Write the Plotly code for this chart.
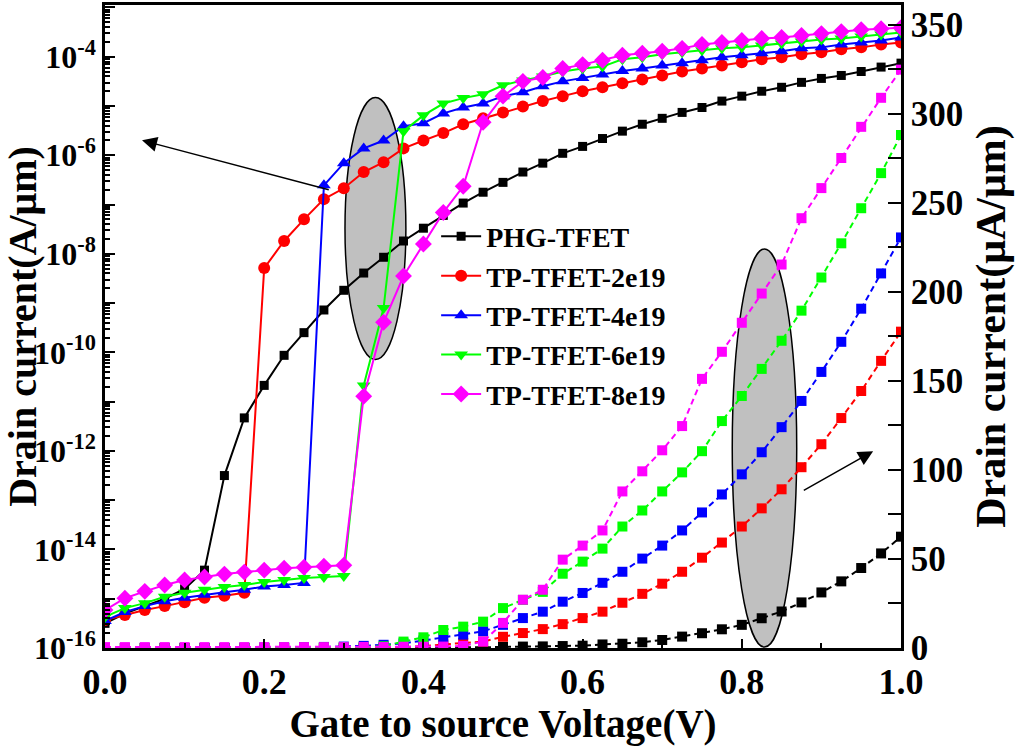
import plotly.graph_objects as go

# ---------------- data ----------------
vgs = [0.0, 0.025, 0.05, 0.075, 0.1, 0.125, 0.15, 0.175, 0.2, 0.225,
       0.25, 0.275, 0.3, 0.325, 0.35, 0.375, 0.4, 0.425, 0.45, 0.475,
       0.5, 0.525, 0.55, 0.575, 0.6, 0.625, 0.65, 0.675, 0.7, 0.725,
       0.75, 0.775, 0.8, 0.825, 0.85, 0.875, 0.9, 0.925, 0.95, 0.975, 1.0]

series_names = ["PHG-TFET", "TP-TFET-2e19", "TP-TFET-4e19", "TP-TFET-6e19", "TP-TFET-8e19"]

# log10 of drain current (A/um), left axis
phg_log10 = [-15.50, -15.30, -15.15, -15.00, -14.80, -14.42, -12.50, -11.33, -10.67, -10.06,
             -9.60, -9.14, -8.74, -8.39, -8.07, -7.74, -7.48, -7.22, -6.97, -6.75,
             -6.55, -6.34, -6.16, -5.96, -5.82, -5.66, -5.51, -5.37, -5.25, -5.13,
             -5.03, -4.90, -4.80, -4.70, -4.62, -4.52, -4.44, -4.38, -4.30, -4.21, -4.13]
tp2_log10 = [-15.43, -15.33, -15.23, -15.15, -15.07, -14.98, -14.94, -14.88, -8.29, -7.74,
             -7.30, -6.89, -6.67, -6.34, -6.14, -5.86, -5.70, -5.55, -5.37, -5.25,
             -5.13, -5.01, -4.90, -4.80, -4.70, -4.62, -4.54, -4.46, -4.38, -4.30,
             -4.24, -4.18, -4.11, -4.05, -4.01, -3.95, -3.91, -3.85, -3.81, -3.75, -3.71]
tp4_log10 = [-15.45, -15.27, -15.15, -15.05, -14.98, -14.92, -14.87, -14.82, -14.75, -14.72,
             -14.68, -6.61, -6.16, -5.86, -5.70, -5.41, -5.35, -5.15, -5.03, -4.95,
             -4.80, -4.72, -4.60, -4.50, -4.43, -4.36, -4.29, -4.24, -4.18, -4.13,
             -4.07, -4.01, -3.97, -3.93, -3.89, -3.83, -3.81, -3.75, -3.71, -3.67, -3.61]
tp6_log10 = [-15.37, -15.19, -15.09, -14.96, -14.88, -14.82, -14.76, -14.72, -14.66, -14.62,
             -14.58, -14.56, -14.54, -10.67, -9.10, -5.51, -5.19, -4.95, -4.84, -4.76,
             -4.58, -4.48, -4.40, -4.30, -4.24, -4.20, -4.05, -4.01, -3.95, -3.91,
             -3.87, -3.83, -3.81, -3.77, -3.73, -3.69, -3.65, -3.63, -3.59, -3.55, -3.51]
tp8_log10 = [-15.23, -14.99, -14.85, -14.72, -14.62, -14.56, -14.50, -14.46, -14.42, -14.38,
             -14.36, -14.34, -14.32, -10.89, -9.39, -8.45, -7.80, -7.16, -6.63, -5.33,
             -4.80, -4.50, -4.42, -4.24, -4.16, -4.07, -3.97, -3.93, -3.89, -3.83,
             -3.75, -3.71, -3.67, -3.63, -3.61, -3.57, -3.53, -3.49, -3.45, -3.43, -3.41]

# drain current (uA/um), right axis
phg_lin = [0.0, 0.0, 0.0, 0.0, 0.0, 0.0, 0.0, 0.0, 0.0, 0.0,
           0.0, 0.0, 0.0, 0.0, 0.0, 0.1, 0.1, 0.2, 0.2, 0.4,
           0.6, 0.8, 0.9, 1.1, 1.3, 2.0, 2.4, 3.2, 4.5, 6.4,
           8.3, 10.5, 13.0, 16.7, 20.5, 25.6, 31.2, 37.4, 44.9, 53.1, 62.5]
tp2_lin = [0.0, 0.0, 0.0, 0.0, 0.0, 0.0, 0.0, 0.0, 0.0, 0.0,
           0.1, 0.1, 0.2, 0.2, 0.3, 0.5, 1.0, 2.0, 2.8, 3.6,
           6.3, 8.4, 10.6, 13.4, 16.8, 20.4, 25.4, 30.4, 36.1, 42.8,
           50.7, 59.2, 68.2, 78.4, 89.1, 101.5, 114.4, 129.1, 144.3, 161.2, 177.6]
tp4_lin = [0.0, 0.0, 0.0, 0.0, 0.0, 0.0, 0.0, 0.1, 0.2, 0.3,
           0.4, 0.6, 0.8, 1.2, 1.8, 2.6, 4.2, 6.0, 7.5, 9.4,
           13.0, 16.8, 20.4, 26.0, 30.9, 36.6, 42.8, 50.2, 57.5, 66.0,
           76.1, 86.2, 97.5, 109.9, 124.0, 138.7, 155.0, 171.9, 190.5, 210.3, 230.5]
tp6_lin = [0.0, 0.0, 0.0, 0.0, 0.0, 0.0, 0.0, 0.1, 0.1, 0.2,
           0.2, 0.3, 0.3, 0.5, 1.0, 3.6, 6.0, 10.1, 12.0, 14.8,
           22.4, 27.0, 31.5, 41.7, 48.5, 55.8, 68.2, 77.2, 87.9, 98.6,
           110.5, 127.4, 141.5, 156.7, 172.5, 189.4, 208.0, 227.2, 246.9, 266.6, 288.0]
tp8_lin = [0.5, 0.5, 0.5, 0.5, 0.5, 0.5, 0.5, 0.5, 0.5, 0.5,
           0.5, 0.5, 0.5, 0.6, 0.6, 0.7, 0.7, 0.8, 1.2, 3.6,
           14.1, 27.1, 32.7, 49.6, 57.5, 66.0, 87.9, 99.2, 111.0, 124.6,
           151.1, 166.3, 182.6, 199.0, 215.3, 241.3, 258.2, 275.1, 292.6, 308.9, 324.7]

log_series = [phg_log10, tp2_log10, tp4_log10, tp6_log10, tp8_log10]
lin_series = [phg_lin, tp2_lin, tp4_lin, tp6_lin, tp8_lin]

left_decades = list(range(-16, -2))
left_label_decades = [-16, -14, -12, -10, -8, -6, -4]
right_ticks = [0, 50, 100, 150, 200, 250, 300, 350]
x_ticks = [0.0, 0.2, 0.4, 0.6, 0.8, 1.0]

# ---------------- style ----------------
colors = ["#000000", "#ff0000", "#0000ff", "#00ff00", "#ff00ff"]
symbols = ["square", "circle", "triangle-up", "triangle-down", "diamond"]
msizes = [9, 12, 12, 12, 13]
FONT = "Liberation Serif, Times New Roman, serif"

fig = go.Figure()

for name, logv, c, s, ms in zip(series_names, log_series, colors, symbols, msizes):
    fig.add_trace(go.Scatter(
        x=vgs, y=[10 ** v for v in logv], name=name, mode="lines+markers",
        line=dict(color=c, width=2), marker=dict(symbol=s, size=ms, color=c),
        yaxis="y"))

for name, linv, c in zip(series_names, lin_series, colors):
    fig.add_trace(go.Scatter(
        x=vgs, y=linv, name=name + " (linear)", mode="lines+markers", showlegend=False,
        line=dict(color=c, width=2, dash="6px,4px"),
        marker=dict(symbol="square", size=10, color=c),
        yaxis="y2"))

# minor tick positions on log axis
minor_vals = []
for d in left_decades:
    for k in range(2, 10):
        minor_vals.append(k * 10.0 ** d)


def log_label(d):
    if d not in left_label_decades:
        return ""
    return "10<sup>" + str(d) + "</sup>"


fig.update_layout(
    width=1025, height=751,
    margin=dict(l=105, r=124, t=5, b=103),
    paper_bgcolor="white", plot_bgcolor="white",
    font=dict(family=FONT, color="black", size=30, weight="bold"),
    xaxis=dict(
        range=[0, 1.0], tickvals=x_ticks, ticktext=[f"{v:.1f}" for v in x_ticks],
        ticks="inside", ticklen=9, tickwidth=2, tickcolor="black",
        minor=dict(dtick=0.1, tick0=0, ticks="inside", ticklen=5, tickwidth=2, tickcolor="black"),
        showline=True, linewidth=2.5, linecolor="black", mirror=True,
        showgrid=False, zeroline=False, automargin=False,
        tickfont=dict(size=36, family=FONT, weight="bold"),
        title=dict(text="Gate to source Voltage(V)", font=dict(size=39, family=FONT, weight="bold"), standoff=6),
    ),
    yaxis=dict(
        type="log", range=[-16, -2.95],
        tickmode="array", tickvals=[10.0 ** d for d in left_decades],
        ticktext=[log_label(d) for d in left_decades],
        ticks="inside", ticklen=10, tickwidth=2, tickcolor="black",
        minor=dict(tickmode="array", tickvals=minor_vals, ticks="inside", ticklen=5, tickwidth=1.5, tickcolor="black"),
        showline=True, linewidth=2.5, linecolor="black",
        showgrid=False, zeroline=False, automargin=False,
        tickfont=dict(size=32, family=FONT, weight="bold"),
        title=dict(text="Drain current(A/μm)", font=dict(size=40, family=FONT, weight="bold"), standoff=9),
    ),
    yaxis2=dict(
        overlaying="y", side="right", range=[0, 361],
        tickvals=right_ticks, ticks="inside", ticklen=13, tickwidth=2, tickcolor="black",
        minor=dict(dtick=25, tick0=0, ticks="inside", ticklen=13, tickwidth=2, tickcolor="black"),
        showline=True, linewidth=2.5, linecolor="black",
        showgrid=False, zeroline=False, automargin=False,
        tickfont=dict(size=35, family=FONT, weight="bold"),
        title=dict(text="Drain current(μA/μm)", font=dict(size=42, family=FONT, weight="bold"), standoff=14),
    ),
    legend=dict(
        x=0.416, y=0.6786, xanchor="left", yanchor="top",
        bgcolor="rgba(0,0,0,0)", borderwidth=0,
        font=dict(size=28, family=FONT, weight="bold"),
        tracegroupgap=0, itemwidth=40,
    ),
    showlegend=True,
)

# highlight ellipses (behind the data)
fig.add_shape(type="circle", xref="x", yref="y2", x0=0.3015, x1=0.378, y0=162, y1=309,
              fillcolor="#c0c0c0", line=dict(color="black", width=1.5), layer="below")
fig.add_shape(type="circle", xref="x", yref="y2", x0=0.788, x1=0.869, y0=0.5, y1=224,
              fillcolor="#c0c0c0", line=dict(color="black", width=1.5), layer="below")

# arrows
fig.add_annotation(x=0.0465, y=285, xref="x", yref="y2", ax=0.283, ay=257, axref="x", ayref="y2",
                   showarrow=True, arrowhead=2, arrowsize=2, arrowwidth=1.5, arrowcolor="black", text="")
fig.add_annotation(x=0.965, y=110.5, xref="x", yref="y2", ax=0.876, ay=88, axref="x", ayref="y2",
                   showarrow=True, arrowhead=2, arrowsize=2, arrowwidth=1.5, arrowcolor="black", text="")

fig.write_html("out.html")
